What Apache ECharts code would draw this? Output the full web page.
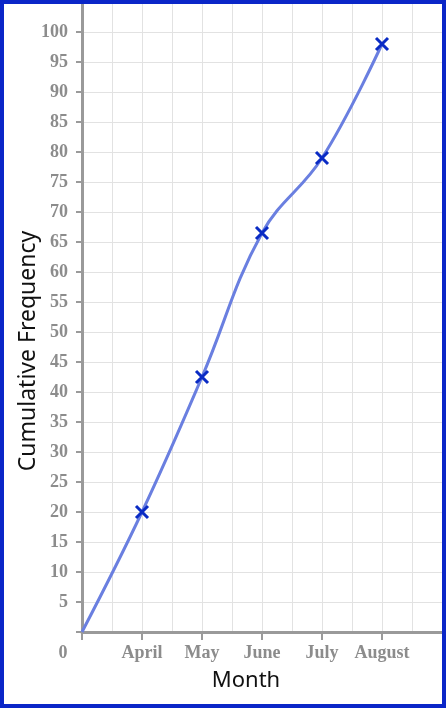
<!DOCTYPE html>
<html>
<head>
<meta charset="utf-8">
<script src="https://cdn.jsdelivr.net/npm/echarts@6/dist/echarts.min.js"></script>
<style>
  html, body { margin: 0; padding: 0; background: #fff; }
  #main { width: 446px; height: 708px; }
</style>
</head>
<body>
<div id="main"></div>
<script>
// month positions on the x axis (0 = origin)
const months = ['0', 'April', 'May', 'June', 'July', 'August'];
const monthPos = [0, 1, 2, 3, 4, 5];
const cumFreq = [0, 20, 42.5, 66.5, 79, 98];
const yTicks = { min: 0, max: 105, step: 5 };

const chartDom = document.getElementById('main');
const myChart = echarts.init(chartDom);

const labelFont = {
  fontFamily: 'Liberation Serif',
  fontWeight: 'bold',
  fontSize: 18,
  color: '#8c8c8c'
};

// X shaped marker
const crossSymbol = 'path://M0,0L10,10M10,0L0,10';

const option = {
  animation: false,
  grid: { left: 82, right: 4, top: 2, bottom: 76 },
  xAxis: {
    type: 'value',
    min: 0,
    max: 6,
    interval: 1,
    name: 'Month',
    nameLocation: 'middle',
    nameGap: 38,
    nameMoveOverlap: false,
    nameTextStyle: {
      fontFamily: 'Noto Sans',
      fontSize: 22,
      color: '#111',
      padding: [0, 32, 0, 0]
    },
    axisLine: { lineStyle: { color: '#9a9a9a', width: 3 } },
    axisTick: { show: true, length: 8, lineStyle: { color: '#9a9a9a', width: 2 } },
    minorTick: { show: false, splitNumber: 2 },
    splitLine: { show: true, lineStyle: { color: '#e2e2e2', width: 1 } },
    minorSplitLine: { show: true, lineStyle: { color: '#e2e2e2', width: 1 } },
    axisLabel: {
      ...labelFont,
      margin: 12,
      showMaxLabel: false,
      formatter: function (v) {
        const i = monthPos.indexOf(v);
        if (i < 0) return '';
        if (i === 0) return '{z|' + months[0] + '}';
        return months[i];
      },
      rich: {
        z: { ...labelFont, padding: [0, 38, 0, 0] }
      }
    }
  },
  yAxis: {
    type: 'value',
    min: yTicks.min,
    max: yTicks.max,
    interval: yTicks.step,
    name: 'Cumulative Frequency',
    nameLocation: 'middle',
    nameRotate: 90,
    nameGap: 44,
    nameMoveOverlap: false,
    nameTextStyle: {
      fontFamily: 'Noto Sans',
      fontSize: 23,
      lineHeight: 20,
      color: '#111',
      padding: [0, 68, 0, 0]
    },
    axisLine: { show: true, lineStyle: { color: '#9a9a9a', width: 3 } },
    axisTick: { show: true, length: 6, lineStyle: { color: '#9a9a9a', width: 2 } },
    splitLine: { show: true, lineStyle: { color: '#e2e2e2', width: 1 } },
    axisLabel: {
      ...labelFont,
      margin: 14,
      showMaxLabel: false,
      formatter: function (v) {
        return v === 0 ? '' : String(v);
      }
    }
  },
  series: [
    {
      type: 'line',
      smooth: 0.4,
      data: monthPos.map(function (m, i) {
        const item = { value: [m, cumFreq[i]] };
        if (i === 0) item.symbol = 'none';
        return item;
      }),
      symbol: crossSymbol,
      symbolSize: 12,
      lineStyle: { color: '#6a7fe0', width: 3 },
      itemStyle: { color: '#0a2bc4', borderColor: '#0a2bc4', borderWidth: 3 },
      z: 5
    }
  ],
  graphic: [
    {
      type: 'rect',
      shape: { x: 2, y: 2, width: 442, height: 704 },
      style: { fill: 'none', stroke: '#0a26c8', lineWidth: 4 },
      z: 100
    }
  ]
};

option && myChart.setOption(option);
</script>
</body>
</html>
